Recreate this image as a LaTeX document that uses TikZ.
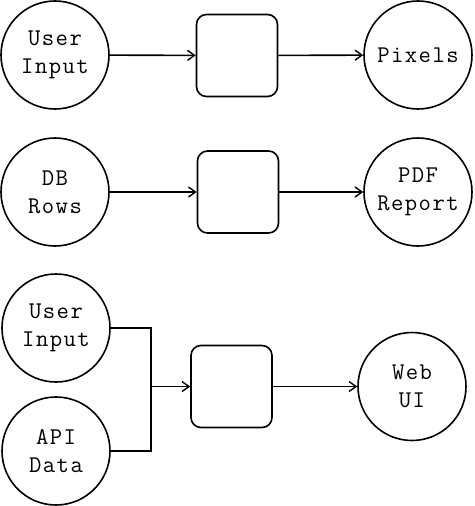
\documentclass[tikz,border=0pt]{standalone}
\usepackage{fontspec}
\newfontfamily\labelfont[LetterSpace=6]{Latin Modern Mono}
\usetikzlibrary{arrows.meta}
\begin{document}
\begin{tikzpicture}[x=1pt,y=-1pt,line width=1.6pt,
    >={Straight Barb[length=7pt,width=10pt,line width=1.4pt]},
    data/.style={draw,circle,minimum size=108pt,inner sep=0pt,align=center,
        font=\labelfont\fontsize{24}{28}\selectfont},
    proc/.style={draw,rounded corners=10pt,minimum width=81pt,minimum height=82pt}]
                \useasboundingbox (0,0) rectangle (474,506);
                % row 1
                \node[data] (user1) at (55,55) {User\\Input};
                \node[proc] (box1) at (237,55.5) {};
                \node[data] (pixels) at (418,55) {Pixels};
                \draw[->] (user1) -- (box1);
                \draw[->] (box1) -- (pixels);
                % row 2
                \node[data] (dbrows) at (55,192) {DB\\Rows};
                \node[proc] (box2) at (238,192) {};
                \node[data] (pdf) at (418,192) {PDF\\Report};
                \draw[->] (dbrows) -- (box2);
                \draw[->] (box2) -- (pdf);
                % row 3
                \node[data] (user3) at (56,328) {User\\Input};
                \node[data] (api) at (56,451) {API\\Data};
                \node[proc] (box3) at (231.5,386.5) {};
                \node[data] (webui) at (412,386.5) {Web\\UI};
                \coordinate (join) at (151,386.5);
                \draw (user3.east) -| (join) |- (api.east);
                \draw[->] (join) -- (box3);
                \draw[->] (box3) -- (webui);
                \end{tikzpicture}
\end{document}
